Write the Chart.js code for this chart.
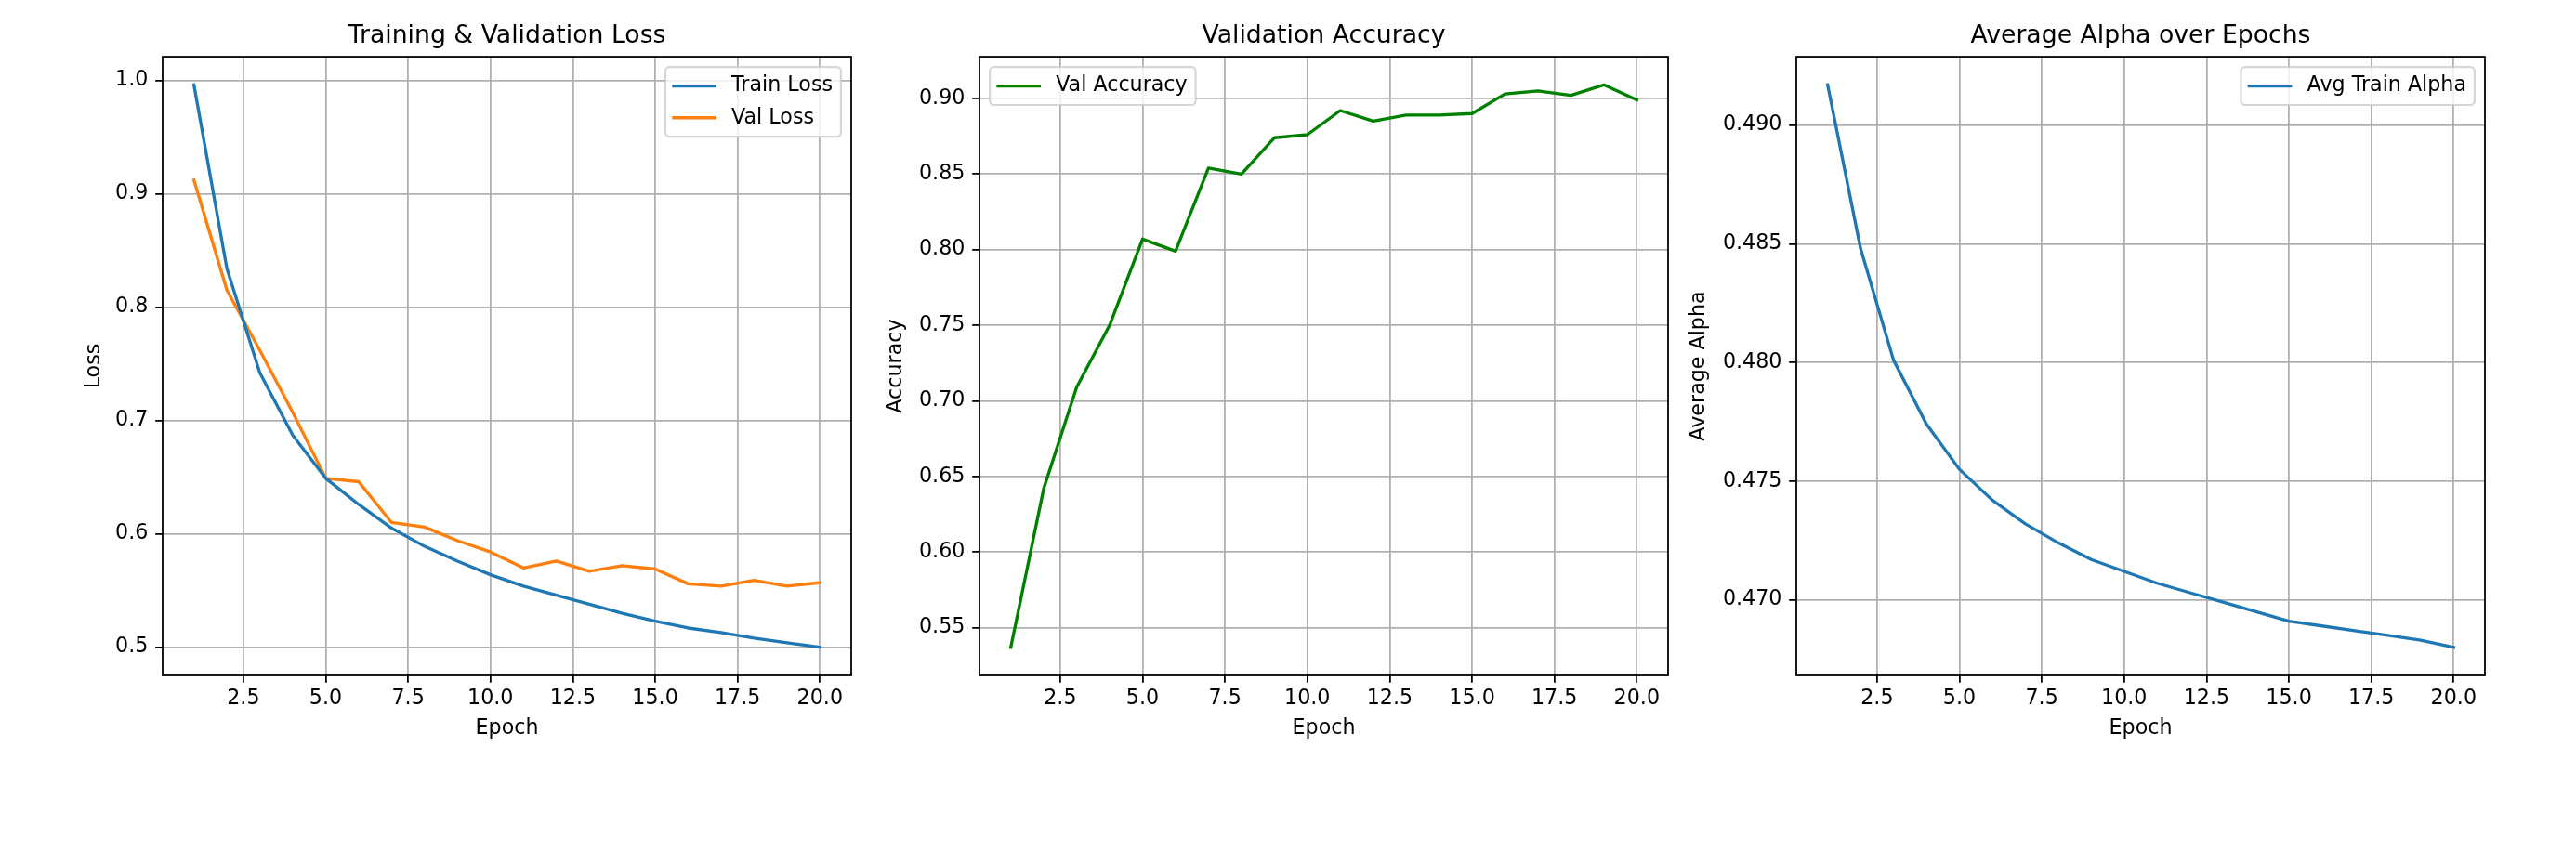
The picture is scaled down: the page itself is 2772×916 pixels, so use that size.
<!DOCTYPE html>
<html>
<head>
<meta charset="utf-8">
<script src="https://cdn.jsdelivr.net/npm/chart.js@4.4.1/dist/chart.umd.min.js"></script>
<style>
  html, body { margin: 0; background: #fff; }
  body { width: 2772px; height: 916px; position: relative; overflow: hidden; }
  canvas { position: absolute; top: 0; }
</style>
</head>
<body>
<canvas id="lossChart" width="881" height="916" style="left:55px"></canvas>
<canvas id="accChart" width="881" height="916" style="left:934px"></canvas>
<canvas id="alphaChart" width="881" height="916" style="left:1813px"></canvas>
<script>
// values
const epochs = [1, 2, 3, 4, 5, 6, 7, 8, 9, 10, 11, 12, 13, 14, 15, 16, 17, 18, 19, 20];
const trainLoss = [0.996, 0.834, 0.742, 0.687, 0.649, 0.626, 0.605, 0.589, 0.576, 0.564,
                   0.554, 0.546, 0.538, 0.530, 0.523, 0.517, 0.513, 0.508, 0.504, 0.500];
const valLoss = [0.912, 0.815, 0.762, 0.707, 0.649, 0.646, 0.610, 0.606, 0.594, 0.584,
                 0.570, 0.576, 0.567, 0.572, 0.569, 0.556, 0.554, 0.559, 0.554, 0.557];
const valAccuracy = [0.537, 0.642, 0.709, 0.750, 0.807, 0.799, 0.854, 0.850, 0.874, 0.876,
                     0.892, 0.885, 0.889, 0.889, 0.890, 0.903, 0.905, 0.902, 0.909, 0.899];
const avgTrainAlpha = [0.4917, 0.4848, 0.4801, 0.4774, 0.4755, 0.4742, 0.4732, 0.4724, 0.4717, 0.4712,
                       0.4707, 0.4703, 0.4699, 0.4695, 0.4691, 0.4689, 0.4687, 0.4685, 0.4683, 0.4680];

const epochTicks = [2.5, 5, 7.5, 10, 12.5, 15, 17.5, 20];
const lossTicks = [0.5, 0.6, 0.7, 0.8, 0.9, 1.0];
const accTicks = [0.55, 0.60, 0.65, 0.70, 0.75, 0.80, 0.85, 0.90];
const alphaTicks = [0.470, 0.475, 0.480, 0.485, 0.490];

const FS = 22.2;      // 10pt
const TITLE_FS = 26.7; // 12pt

Chart.defaults.font.family = '"DejaVu Sans", sans-serif';
Chart.defaults.font.size = FS;
Chart.defaults.color = '#000';

// matplotlib-like 5% margins
function padRange(values) {
  const lo = Math.min(...values), hi = Math.max(...values);
  const m = (hi - lo) * 0.05;
  return [lo - m, hi + m];
}

function roundRect(ctx, x, y, w, h, r) {
  ctx.beginPath();
  ctx.moveTo(x + r, y);
  ctx.lineTo(x + w - r, y);
  ctx.arcTo(x + w, y, x + w, y + r, r);
  ctx.lineTo(x + w, y + h - r);
  ctx.arcTo(x + w, y + h, x + w - r, y + h, r);
  ctx.lineTo(x + r, y + h);
  ctx.arcTo(x, y + h, x, y + h - r, r);
  ctx.lineTo(x, y + r);
  ctx.arcTo(x, y, x + r, y, r);
  ctx.closePath();
}

// all four spines
const spines = {
  id: 'spines',
  afterDatasetsDraw(chart) {
    const { ctx, chartArea: a } = chart;
    ctx.save();
    ctx.strokeStyle = '#000';
    ctx.lineWidth = 1.78;
    ctx.strokeRect(a.left, a.top, a.right - a.left, a.bottom - a.top);
    ctx.restore();
  }
};

// legend box inside the axes
const boxLegend = {
  id: 'boxLegend',
  afterDraw(chart, args, opts) {
    const { ctx, chartArea: a } = chart;
    const items = chart.data.datasets;
    const pad = 0.4 * FS, handle = 2 * FS, gap = 0.8 * FS;
    const rowH = 1.04 * FS, space = 0.5 * FS, axPad = 0.5 * FS;
    ctx.save();
    ctx.font = FS + 'px "DejaVu Sans"';
    const textW = Math.max(...items.map(d => ctx.measureText(d.label).width));
    const w = pad + handle + gap + textW + pad;
    const h = 2 * pad + items.length * rowH + (items.length - 1) * space;
    const x = opts.corner === 'left' ? a.left + axPad : a.right - axPad - w;
    const y = a.top + axPad;
    roundRect(ctx, x, y, w, h, 0.2 * FS);
    ctx.fillStyle = 'rgba(255,255,255,0.8)';
    ctx.fill();
    ctx.lineWidth = 2.2;
    ctx.strokeStyle = 'rgba(204,204,204,0.8)';
    ctx.stroke();
    items.forEach((d, i) => {
      const cy = y + pad + rowH / 2 + i * (rowH + space);
      ctx.beginPath();
      ctx.moveTo(x + pad, cy);
      ctx.lineTo(x + pad + handle, cy);
      ctx.strokeStyle = d.borderColor;
      ctx.lineWidth = d.borderWidth;
      ctx.lineCap = 'square';
      ctx.stroke();
      ctx.fillStyle = '#000';
      ctx.textBaseline = 'middle';
      ctx.textAlign = 'left';
      ctx.fillText(d.label, x + pad + handle + gap, cy);
    });
    ctx.restore();
  }
};

const grid = { color: '#b0b0b0', lineWidth: 1.78, tickColor: '#000', tickWidth: 1.78, tickLength: 7.8 };

function lineChart(id, title, yTitle, yTitlePad, yTicks, digits, corner, series) {
  const [yMin, yMax] = padRange(series.flatMap(s => s.data));
  const [xMin, xMax] = padRange(epochs);
  return new Chart(document.getElementById(id), {
    type: 'line',
    data: {
      labels: epochs,
      datasets: series.map(s => ({
        label: s.label,
        data: s.data,
        borderColor: s.color,
        borderWidth: 3.33,
        borderJoinStyle: 'round',
        borderCapStyle: 'square',
        pointRadius: 0,
        tension: 0,
        fill: false
      }))
    },
    options: {
      responsive: false,
      animation: false,
      devicePixelRatio: 1,
      layout: { padding: { left: 0, right: 20, top: 0, bottom: 109 } },
      plugins: {
        legend: { display: false },
        tooltip: { enabled: false },
        title: {
          display: true, text: title, fullSize: false, color: '#000',
          font: { size: TITLE_FS, weight: 'normal' },
          padding: { top: 22.6, bottom: 6.4 }
        },
        boxLegend: { corner: corner }
      },
      scales: {
        x: {
          type: 'linear', min: xMin, max: xMax,
          afterBuildTicks: s => { s.ticks = epochTicks.map(v => ({ value: v })); },
          afterFit: s => { s.height = 80; },
          ticks: { callback: v => v.toFixed(1), padding: 4, maxRotation: 0, autoSkip: false },
          grid: grid,
          border: { display: false },
          title: { display: true, text: 'Epoch', padding: { top: 0, bottom: 9.7 } }
        },
        y: {
          min: yMin, max: yMax,
          afterBuildTicks: s => { s.ticks = yTicks.map(v => ({ value: v })); },
          afterFit: s => { s.width = 120; },
          ticks: { callback: v => v.toFixed(digits), padding: 7.8, autoSkip: false },
          grid: grid,
          border: { display: false },
          title: { display: true, text: yTitle, padding: { top: yTitlePad, bottom: 0 } }
        }
      }
    },
    plugins: [spines, boxLegend]
  });
}

lineChart('lossChart', 'Training & Validation Loss', 'Loss', 32.7, lossTicks, 1, 'right', [
  { label: 'Train Loss', data: trainLoss, color: '#1f77b4' },
  { label: 'Val Loss', data: valLoss, color: '#ff7f0e' }
]);

lineChart('accChart', 'Validation Accuracy', 'Accuracy', 16.7, accTicks, 2, 'left', [
  { label: 'Val Accuracy', data: valAccuracy, color: '#008000' }
]);

lineChart('alphaChart', 'Average Alpha over Epochs', 'Average Alpha', 2.2, alphaTicks, 3, 'right', [
  { label: 'Avg Train Alpha', data: avgTrainAlpha, color: '#1f77b4' }
]);
</script>
</body>
</html>
